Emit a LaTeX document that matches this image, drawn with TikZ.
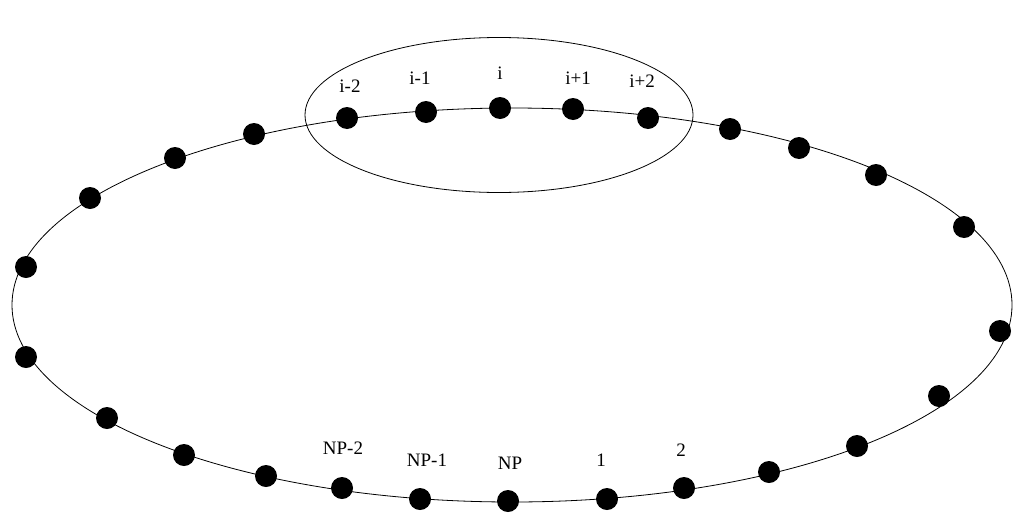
\documentclass[tikz,border=0pt]{standalone}
\usepackage{fontspec}
\setmainfont{Liberation Serif}
\usetikzlibrary{shapes.geometric}
\begin{document}
\begin{tikzpicture}[x=1pt,y=-1pt,
  dot/.style={circle,fill=black,inner sep=0pt,minimum size=22pt},
  lab/.style={font=\fontsize{19}{19}\selectfont}]
\useasboundingbox (0,0) rectangle (1024,525);
\node[draw,ellipse,minimum width=1000pt,minimum height=394pt,inner sep=0pt,line width=0.8pt] (big) at (512,305) {};
\node[draw,ellipse,minimum width=388pt,minimum height=155pt,inner sep=0pt,line width=0.8pt] (small) at (499,115) {};
\foreach \x/\y [count=\k] in {347/118,426/112,500/108,573/109,648/118,730/129,799/148,876/175,964/227,1000/331,939/396,857/446,769/472,684/488,607/499,508/501,420/499,342/488,266/476,184/455,107/418,26/357,26/267,90/198,175/158,254/134}
  \node[dot] (d\k) at (\x,\y) {};
\node[lab] (l1) at (350,86) {i-2};
\node[lab] (l2) at (420,78) {i-1};
\node[lab] (l3) at (500,73) {i};
\node[lab] (l4) at (578,78) {i+1};
\node[lab] (l5) at (642,81) {i+2};
\node[lab] (l6) at (343,448) {NP-2};
\node[lab] (l7) at (427,460) {NP-1};
\node[lab] (l8) at (510,463) {NP};
\node[lab] (l9) at (601,460) {1};
\node[lab] (l10) at (681,450) {2};
\end{tikzpicture}
\end{document}
